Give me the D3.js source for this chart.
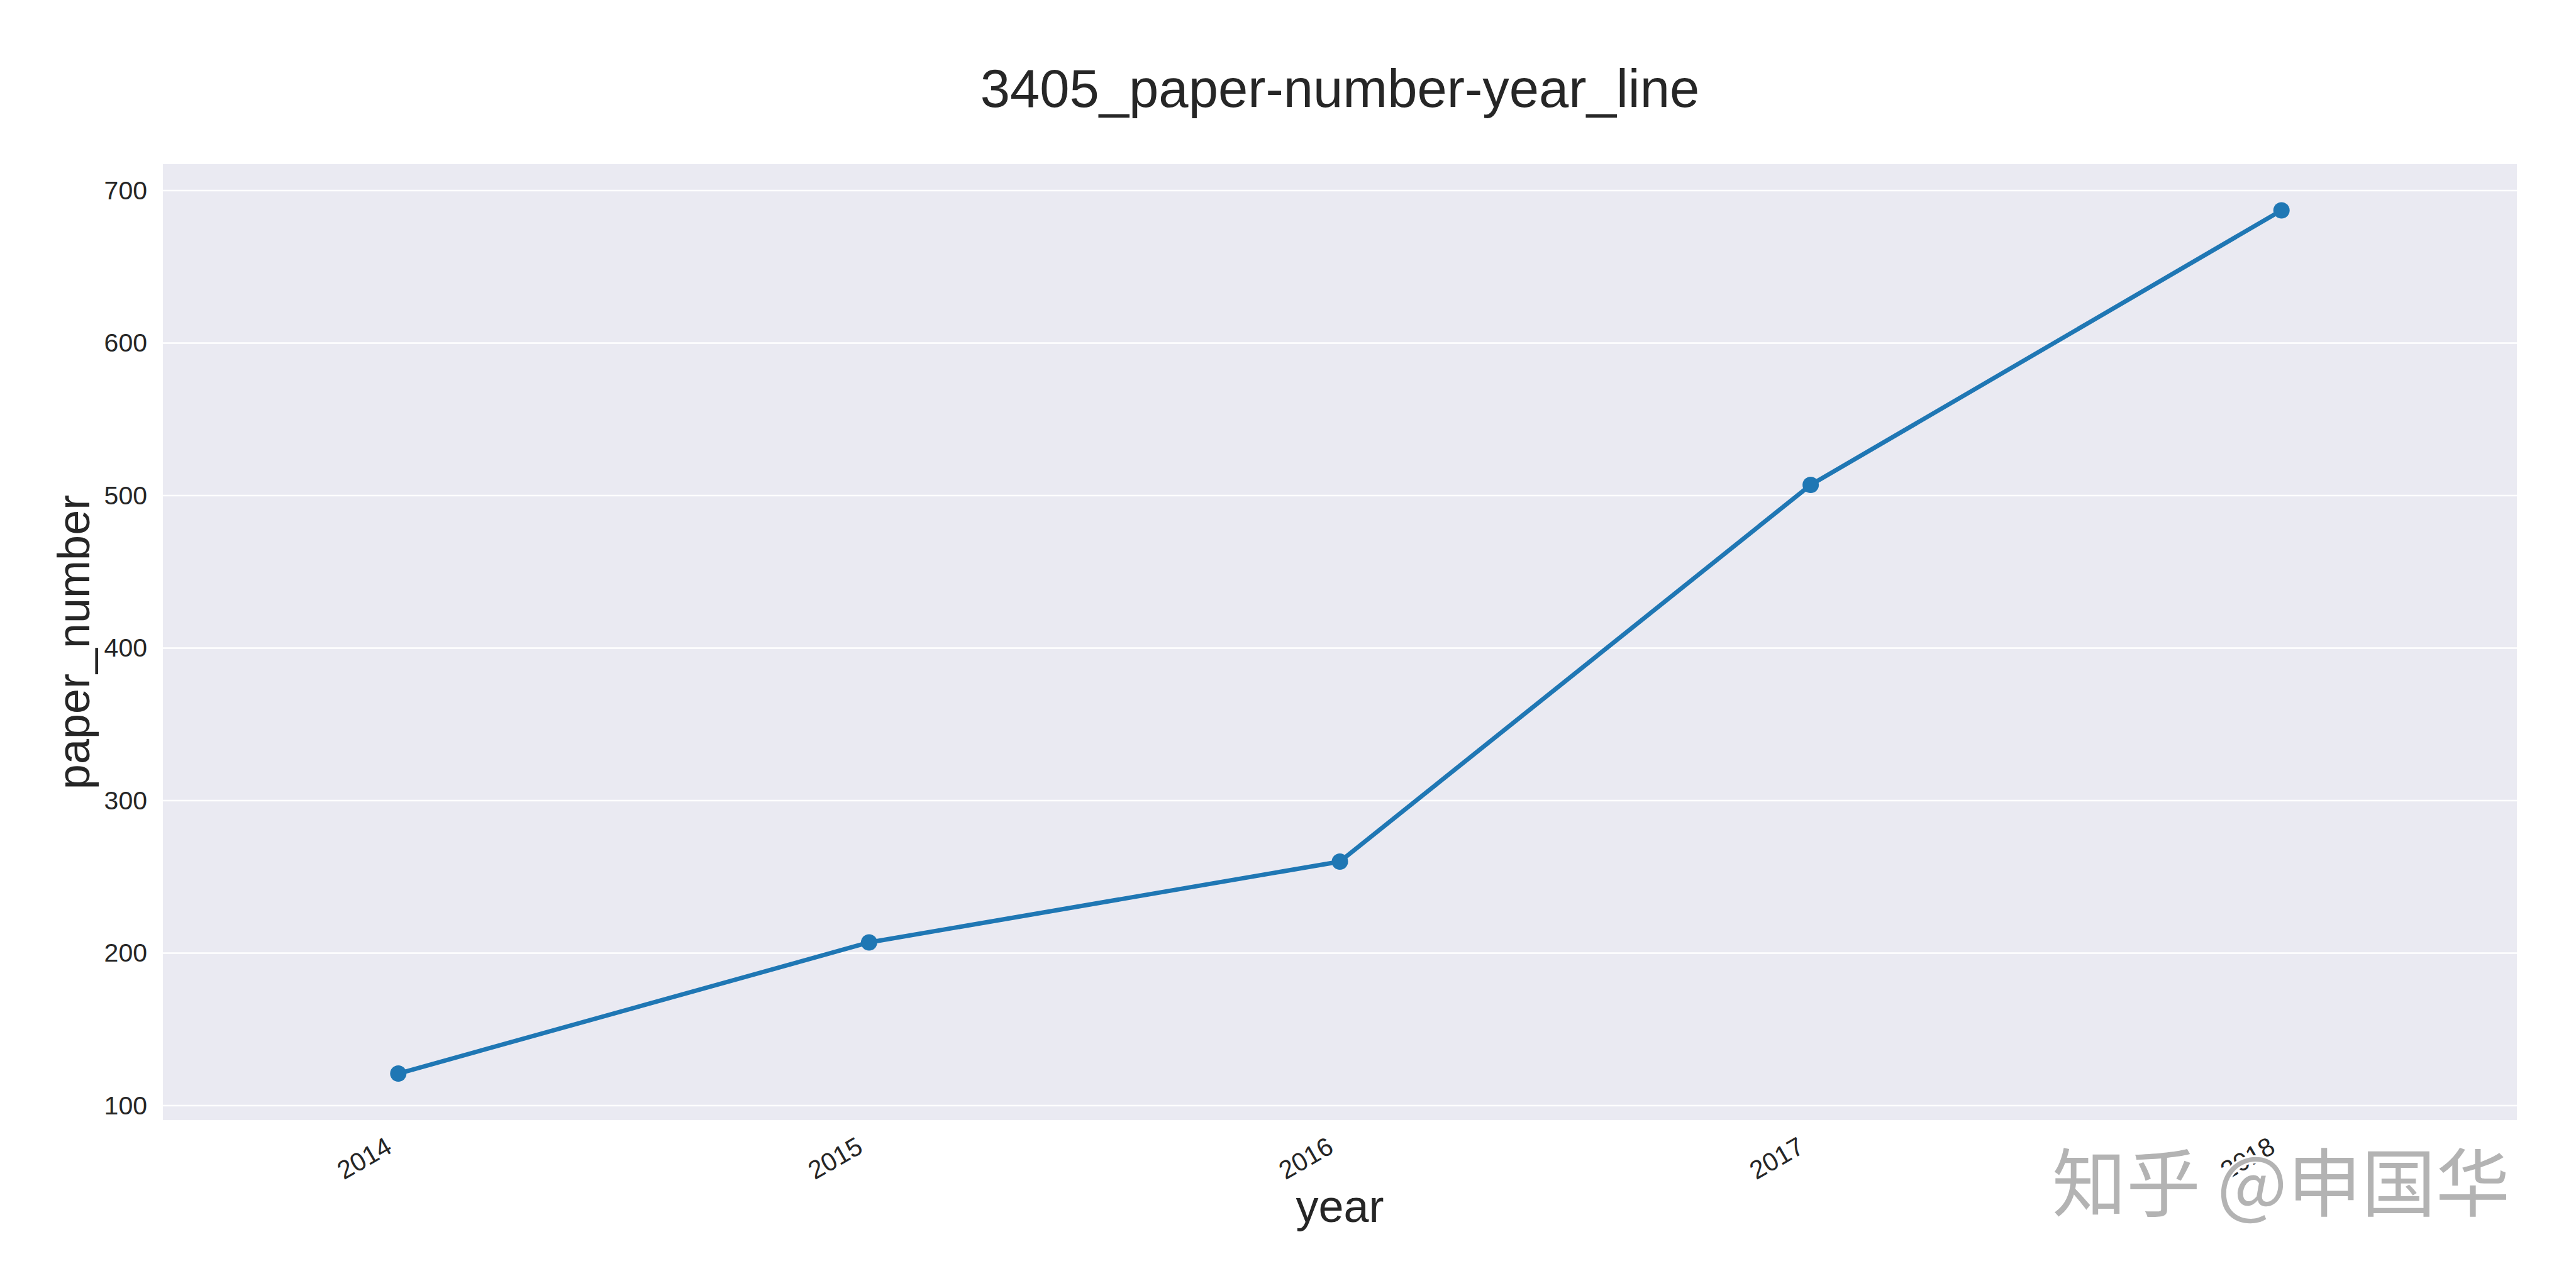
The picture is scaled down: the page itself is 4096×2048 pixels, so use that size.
<!DOCTYPE html>
<html>
<head>
<meta charset="utf-8">
<script src="https://cdnjs.cloudflare.com/ajax/libs/d3/7.8.5/d3.min.js"></script>
<style>
    html, body { margin: 0; padding: 0; background: #fff; }
    text { font-family: "Liberation Sans", Arial, sans-serif; fill: #262626; }
</style>
</head>
<body>
<div id="chart"></div>
<script>
// chart data
var years = ['2014', '2015', '2016', '2017', '2018'];
var paperNumbers = [121, 207, 260, 507, 687];
var yTicks = [100, 200, 300, 400, 500, 600, 700];
var yDomain = [90.5, 717.3];

var title = '3405_paper-number-year_line';
var xLabel = 'year';
var yLabel = 'paper_number';
var watermark = '知乎 @申国华';

// setup variables
var width = 4096,
    height = 2048,
    margin = {top: 261, right: 94, bottom: 267, left: 259};

var svg = d3.select('#chart')
    .append('svg')
    .attr('width', width)
    .attr('height', height);

var plotW = width - margin.left - margin.right,
    plotH = height - margin.top - margin.bottom;

// seaborn style: categorical x with half a step of room on each side
var x = d3.scalePoint()
    .domain(years)
    .range([margin.left, margin.left + plotW])
    .padding(0.5);

var y = d3.scaleLinear()
    .domain(yDomain)
    .range([margin.top + plotH, margin.top]);

// background
svg.append('rect')
    .attr('x', margin.left)
    .attr('y', margin.top)
    .attr('width', plotW)
    .attr('height', plotH)
    .attr('fill', '#eaeaf2');

// horizontal grid
svg.append('g')
    .attr('class', 'grid')
    .selectAll('line')
    .data(yTicks)
    .enter().append('line')
    .attr('x1', margin.left)
    .attr('x2', margin.left + plotW)
    .attr('y1', function(d) { return y(d); })
    .attr('y2', function(d) { return y(d); })
    .attr('stroke', '#fff')
    .attr('stroke-width', 2.5);

// y axis
var yAxis = svg.append('g')
    .attr('class', 'y axis')
    .attr('transform', 'translate(' + margin.left + ',0)')
    .call(d3.axisLeft(y).tickValues(yTicks).tickSize(0).tickPadding(25));
yAxis.select('.domain').remove();
yAxis.selectAll('text')
    .attr('font-size', 41)
    .attr('fill', '#262626')
    .style('font-family', '"Liberation Sans", Arial, sans-serif');

// x axis
var xAxis = svg.append('g')
    .attr('class', 'x axis')
    .attr('transform', 'translate(0,' + (margin.top + plotH) + ')')
    .call(d3.axisBottom(x).tickSize(0).tickPadding(0));
xAxis.select('.domain').remove();
xAxis.selectAll('text')
    .attr('font-size', 41)
    .attr('fill', '#262626')
    .style('font-family', '"Liberation Sans", Arial, sans-serif')
    .attr('text-anchor', 'end')
    .attr('y', 0)
    .attr('dy', 0)
    .attr('transform', 'translate(-8,50) rotate(-30)');

// line
var line = d3.line()
    .x(function(d, i) { return x(years[i]); })
    .y(function(d) { return y(d); });

svg.append('path')
    .datum(paperNumbers)
    .attr('fill', 'none')
    .attr('stroke', '#1f77b4')
    .attr('stroke-width', 7)
    .attr('stroke-linejoin', 'round')
    .attr('d', line);

svg.append('g')
    .selectAll('circle')
    .data(paperNumbers)
    .enter().append('circle')
    .attr('cx', function(d, i) { return x(years[i]); })
    .attr('cy', function(d) { return y(d); })
    .attr('r', 13)
    .attr('fill', '#1f77b4');

// title and axis labels
svg.append('text')
    .attr('x', margin.left + plotW / 2)
    .attr('y', 170)
    .attr('text-anchor', 'middle')
    .attr('font-size', 85)
    .text(title);

svg.append('text')
    .attr('x', margin.left + plotW / 2)
    .attr('y', 1943)
    .attr('text-anchor', 'middle')
    .attr('font-size', 72)
    .text(xLabel);

svg.append('text')
    .attr('transform', 'translate(142,' + (margin.top + plotH / 2) + ') rotate(-90)')
    .attr('text-anchor', 'middle')
    .attr('font-size', 72)
    .text(yLabel);

// watermark sits on top of the last tick label
svg.append('text')
    .attr('x', 3991)
    .attr('y', 1925)
    .attr('text-anchor', 'end')
    .attr('font-size', 118)
    .style('font-family', '"Noto Sans CJK SC", sans-serif')
    .style('fill', '#b3b3b3')
    .attr('stroke', '#fff')
    .attr('stroke-width', 6)
    .attr('paint-order', 'stroke')
    .text(watermark);
</script>
</body>
</html>
